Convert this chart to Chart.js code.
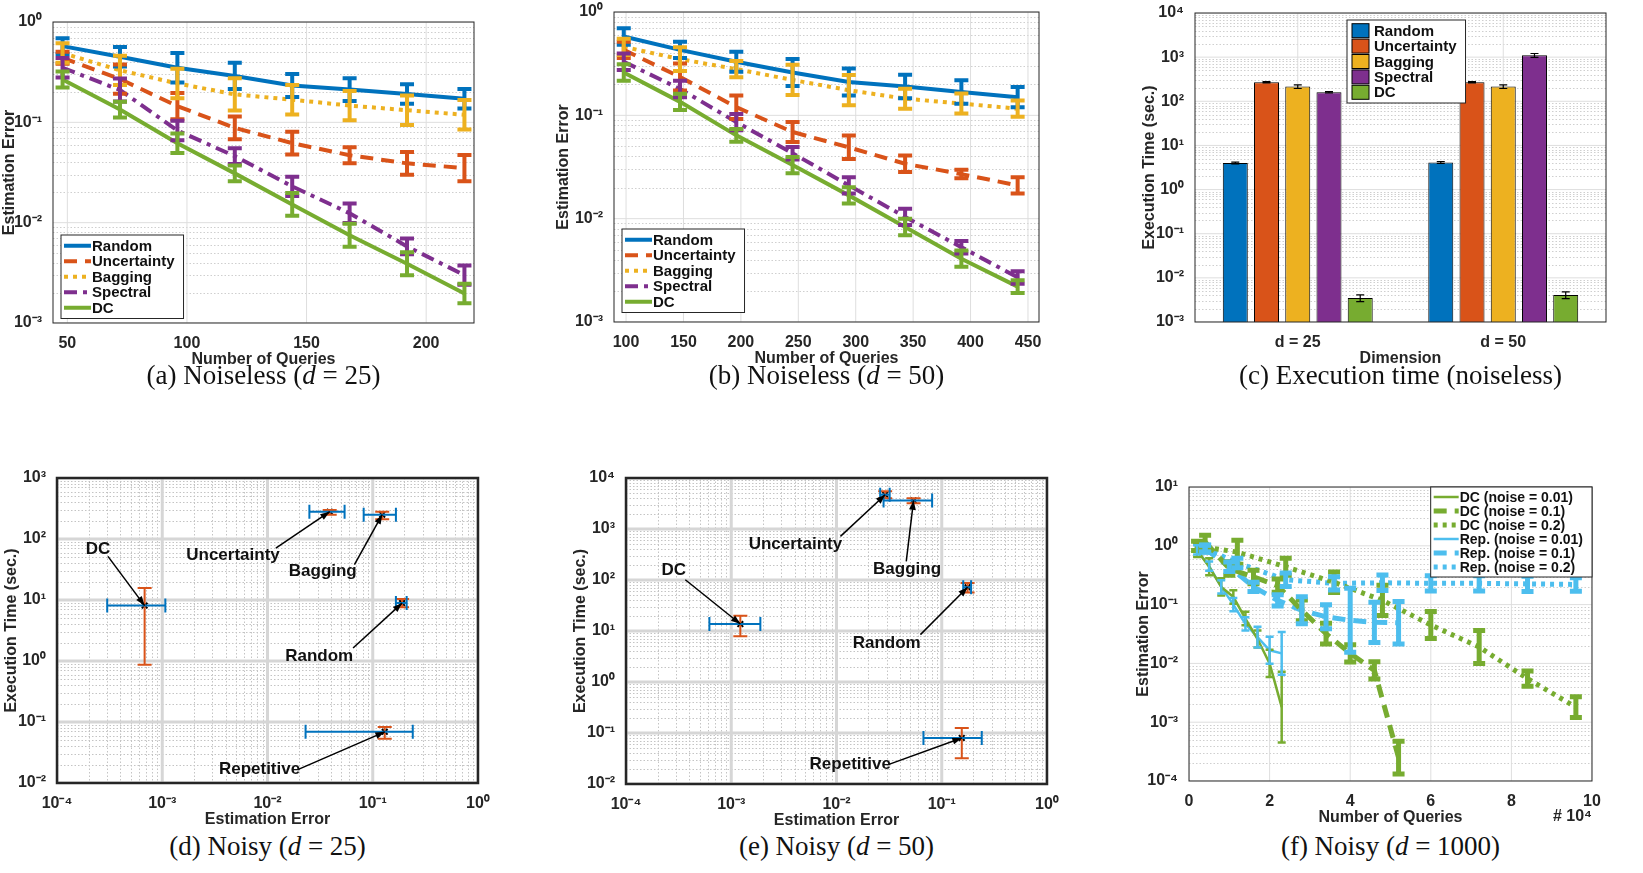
<!DOCTYPE html>
<html><head><meta charset="utf-8">
<script src="https://cdn.jsdelivr.net/npm/chart.js@4.4.1/dist/chart.umd.min.js"></script>
<style>
body{margin:0;background:#fff;width:1643px;height:873px;position:relative;overflow:hidden}
.p{position:absolute}
.cap{position:absolute;font-family:"Liberation Serif","Times New Roman",serif;font-size:27px;color:#111;transform:translateX(-50%);white-space:nowrap}
</style></head><body>
<script>
// ---- data ----
const methods = ["Random", "Uncertainty", "Bagging", "Spectral", "DC"];

const queriesA = [48, 72, 96, 120, 144, 168, 192, 216];
const randomA = [0.575, 0.45, 0.35, 0.29, 0.233, 0.212, 0.192, 0.172];
const uncertA = [0.44, 0.27, 0.145, 0.088, 0.062, 0.047, 0.039, 0.035];
const baggingA = [0.49, 0.33, 0.244, 0.19, 0.168, 0.147, 0.132, 0.119];
const spectralA = [0.35, 0.21, 0.083, 0.046, 0.023, 0.0124, 0.0058, 0.003];
const dcA = [0.267, 0.134, 0.062, 0.031, 0.0152, 0.0075, 0.0039, 0.00197];
const randomAErr = [1.2, 1.25, 1.4, 1.35, 1.3, 1.3, 1.25, 1.25];
const uncertAErr = [1.15, 1.4, 1.35, 1.3, 1.3, 1.2, 1.3, 1.35];
const baggingAErr = [1.25, 1.4, 1.4, 1.45, 1.4, 1.4, 1.4, 1.4];
const spectralAErr = [1.25, 1.3, 1.25, 1.2, 1.25, 1.25, 1.2, 1.25];
const dcAErr = [1.2, 1.2, 1.25, 1.2, 1.3, 1.3, 1.3, 1.25];

const queriesB = [98, 147, 196, 245, 294, 343, 392, 441];
const randomB = [0.58, 0.43, 0.33, 0.26, 0.21, 0.19, 0.168, 0.15];
const uncertB = [0.43, 0.235, 0.12, 0.069, 0.049, 0.034, 0.027, 0.021];
const baggingB = [0.46, 0.35, 0.28, 0.22, 0.175, 0.145, 0.13, 0.116];
const spectralB = [0.33, 0.18, 0.086, 0.043, 0.021, 0.0104, 0.0053, 0.0027];
const dcB = [0.26, 0.135, 0.064, 0.033, 0.0168, 0.0083, 0.0041, 0.0022];
const randomBErr = [1.2, 1.2, 1.25, 1.35, 1.35, 1.3, 1.3, 1.25];
const uncertBErr = [1.2, 1.35, 1.3, 1.25, 1.3, 1.2, 1.1, 1.2];
const baggingBErr = [1.2, 1.3, 1.2, 1.4, 1.4, 1.25, 1.25, 1.2];
const spectralBErr = [1.2, 1.2, 1.2, 1.15, 1.2, 1.2, 1.15, 1.15];
const dcBErr = [1.2, 1.2, 1.15, 1.2, 1.2, 1.2, 1.2, 1.15];

const dimensions = ["d = 25", "d = 50"];
const timeRandom = [4.0, 4.1];
const timeUncert = [270, 270];
const timeBagging = [215, 215];
const timeSpectral = [160, 1100];
const timeDC = [0.0035, 0.0041];
const timeErr = { Random: [0.2, 0.2], Uncertainty: [10, 10], Bagging: [20, 20], Spectral: [6, 110], DC: [0.0006, 0.0007] };

const noisyNames = ["DC", "Uncertainty", "Bagging", "Random", "Repetitive"];
const errD = [6.8e-4, 0.039, 0.123, 0.19, 0.13];
const errDLo = [3e-4, 0.025, 0.082, 0.166, 0.023];
const errDHi = [1.07e-3, 0.054, 0.166, 0.21, 0.24];
const timeD = [8.1, 280, 250, 8.9, 0.069];
const timeDLo = [0.87, 250, 210, 7.6, 0.053];
const timeDHi = [15.7, 300, 280, 10.4, 0.083];
// label position, arrow tail (data coords)
const notesD = [[2.45e-4, 68, 3.05e-4, 52], [4.7e-3, 55, 0.012, 71], [0.0335, 29.5, 0.067, 38], [0.031, 1.19, 0.065, 1.63], [8.4e-3, 0.0166, 0.0194, 0.0166]];

const errE = [1.22e-3, 0.029, 0.054, 0.176, 0.155];
const errELo = [6.2e-4, 0.026, 0.028, 0.16, 0.067];
const errEHi = [1.89e-3, 0.032, 0.081, 0.19, 0.24];
const timeE = [13.7, 4700, 3630, 71.8, 0.08];
const timeELo = [7.9, 4000, 3200, 57, 0.032];
const timeEHi = [20, 5500, 4000, 87, 0.125];
const notesE = [[2.85e-4, 158, 3.66e-4, 101], [4.07e-3, 508, 0.0109, 718], [0.0468, 164, 0.046, 232], [0.030, 5.65, 0.0627, 8.5], [0.0135, 0.024, 0.031, 0.024]];

const dc01X = [0.2, 0.5, 0.8, 1.1, 1.4, 1.7, 2.0, 2.3];
const dc01 = [0.84, 0.44, 0.2, 0.135, 0.058, 0.026, 0.01, 0.0018];
const dc01Err = [1.3, 1.4, 1.4, 1.3, 1.3, 1.4, 1.7, 4];
const rep01X = [0.2, 0.5, 0.8, 1.1, 1.4, 1.7, 2.0, 2.3];
const rep01 = [0.85, 0.45, 0.2, 0.1, 0.047, 0.028, 0.0167, 0.0148];
const rep01Err = [1.2, 1.2, 1.3, 1.3, 1.3, 1.5, 1.7, 2.3];
const dc1X = [0.4, 1.0, 1.6, 2.2, 2.8, 3.4, 4.0, 4.6, 5.2];
const dc1 = [1.16, 0.41, 0.295, 0.21, 0.08, 0.032, 0.0148, 0.0076, 0.00025];
const dc1Err = [1.3, 1.3, 1.3, 1.3, 1.5, 1.5, 1.4, 1.4, 1.9];
const rep1X = [0.4, 1.0, 1.6, 2.2, 2.8, 3.4, 4.0, 4.6, 5.2];
const rep1 = [0.89, 0.44, 0.2, 0.118, 0.08, 0.062, 0.054, 0.05, 0.049];
const rep1Err = [1.15, 1.2, 1.2, 1.25, 1.7, 1.6, 3.5, 2.2, 2.3];
const dc2X = [0.2, 1.2, 2.4, 3.6, 4.8, 6.0, 7.2, 8.4, 9.6];
const dc2 = [1.0, 0.78, 0.44, 0.24, 0.118, 0.045, 0.019, 0.0055, 0.0018];
const dc2Err = [1.2, 1.6, 1.4, 1.5, 1.8, 1.7, 1.9, 1.35, 1.5];
const rep2X = [0.4, 1.2, 2.4, 3.6, 4.8, 6.0, 7.2, 8.4, 9.6];
const rep2 = [0.9, 0.51, 0.265, 0.23, 0.235, 0.23, 0.23, 0.225, 0.22];
const rep2Err = [1.15, 1.2, 1.3, 1.3, 1.35, 1.35, 1.35, 1.35, 1.3];

// ---- style ----
const C = { blue: '#0072BD', orange: '#D95319', yellow: '#EDB120', purple: '#7E2F8E', green: '#77AC30', cyan: '#4DBEEE' };
const INK = '#262626';
Chart.defaults.font.family = '"Liberation Sans", Arial, sans-serif';
Chart.defaults.font.weight = 'bold';
Chart.defaults.color = INK;
Chart.defaults.animation = false;

const SUP = { '-': '⁻', '0': '⁰', '1': '¹', '2': '²', '3': '³', '4': '⁴' };
function pow10(v) {
  const e = Math.round(Math.log10(v));
  return '10' + String(e).split('').map(c => SUP[c]).join('');
}
function decades(min, max) {
  const out = [];
  for (let e = Math.round(Math.log10(min)); e <= Math.round(Math.log10(max)); e++) out.push(Math.pow(10, e));
  return out;
}
function minors(min, max) {
  const out = [];
  for (let e = Math.floor(Math.log10(min)); e < Math.ceil(Math.log10(max)); e++)
    for (let k = 2; k <= 9; k++) { const v = k * Math.pow(10, e); if (v > min && v < max) out.push(v); }
  return out;
}

function fitFn(size, horizontal) {
  return s => { if (horizontal) s.height = size; else s.width = size; s.paddingLeft = 0; s.paddingRight = 0; s.paddingTop = 0; s.paddingBottom = 0; };
}
function logAxis(min, max, title, size, horizontal, fs) {
  return {
    type: 'logarithmic', min, max,
    title: { display: !!title, text: title, font: { size: 16, weight: 'bold' }, padding: 0, color: INK },
    ticks: { font: { size: fs || 16, weight: 'bold' }, color: INK, padding: 3, autoSkip: false, maxRotation: 0, callback: v => pow10(v) },
    grid: { display: false }, border: { display: false },
    afterBuildTicks: s => { s.ticks = decades(min, max).map(v => ({ value: v })); },
    afterFit: fitFn(size, horizontal)
  };
}
function linAxis(min, max, ticks, title, size) {
  return {
    type: 'linear', min, max,
    title: { display: true, text: title, font: { size: 16, weight: 'bold' }, padding: 0, color: INK },
    ticks: { font: { size: 16, weight: 'bold' }, color: INK, padding: 3, autoSkip: false, maxRotation: 0 },
    grid: { display: false }, border: { display: false },
    afterBuildTicks: s => { s.ticks = ticks.map(v => ({ value: v })); },
    afterFit: fitFn(size, true)
  };
}

// grid, box, error bars, legend, notes
const matPlugin = {
  id: 'mat',
  beforeDatasetsDraw(chart) {
    const o = chart.options.plugins.mat || {};
    const a = chart.chartArea, ctx = chart.ctx, xs = chart.scales.x, ys = chart.scales.y;
    ctx.save();
    ctx.beginPath(); ctx.rect(a.left, a.top, a.right - a.left, a.bottom - a.top); ctx.clip();
    const line = (x1, y1, x2, y2) => { ctx.beginPath(); ctx.moveTo(x1, y1); ctx.lineTo(x2, y2); ctx.stroke(); };
    ctx.strokeStyle = o.minorColor || '#cfcfcf'; ctx.lineWidth = 1; ctx.setLineDash([1.5, 2]);
    if (o.yMinor) minors(ys.min, ys.max).forEach(v => { const y = Math.round(ys.getPixelForValue(v)) + 0.5; line(a.left, y, a.right, y); });
    if (o.xMinor) minors(xs.min, xs.max).forEach(v => { const x = Math.round(xs.getPixelForValue(v)) + 0.5; line(x, a.top, x, a.bottom); });
    ctx.setLineDash([]); ctx.strokeStyle = o.majorColor || '#dedede'; ctx.lineWidth = o.majorWidth || 1;
    ys.ticks.forEach(t => { const y = ys.getPixelForValue(t.value); line(a.left, y, a.right, y); });
    if (!o.noXMajor) xs.ticks.forEach(t => { const x = xs.getPixelForValue(t.value); line(x, a.top, x, a.bottom); });
    ctx.restore();
  },
  afterDatasetsDraw(chart) {
    const xs = chart.scales.x, ys = chart.scales.y, ctx = chart.ctx;
    // error bars
    chart.data.datasets.forEach((ds, di) => {
      const meta = chart.getDatasetMeta(di);
      ctx.save(); ctx.setLineDash([]); ctx.lineCap = 'butt';
      ctx.lineWidth = ds.errWidth || 2;
      const cap = ds.capW || 6;
      meta.data.forEach((el, i) => {
        if (ds.errLo) {
          const x = el.x, y1 = ys.getPixelForValue(ds.errLo[i]), y2 = ys.getPixelForValue(ds.errHi[i]);
          ctx.strokeStyle = ds.errColor || ds.borderColor;
          ctx.beginPath(); ctx.moveTo(x, y1); ctx.lineTo(x, y2);
          ctx.moveTo(x - cap, y1); ctx.lineTo(x + cap, y1); ctx.moveTo(x - cap, y2); ctx.lineTo(x + cap, y2); ctx.stroke();
        }
        if (ds.xLo) {
          const y = el.y, x1 = xs.getPixelForValue(ds.xLo[i]), x2 = xs.getPixelForValue(ds.xHi[i]);
          ctx.strokeStyle = ds.xErrColor;
          ctx.beginPath(); ctx.moveTo(x1, y); ctx.lineTo(x2, y);
          ctx.moveTo(x1, y - cap); ctx.lineTo(x1, y + cap); ctx.moveTo(x2, y - cap); ctx.lineTo(x2, y + cap); ctx.stroke();
        }
      });
      ctx.restore();
    });
  },
  afterDraw(chart) {
    const o = chart.options.plugins.mat || {};
    const a = chart.chartArea, ctx = chart.ctx, xs = chart.scales.x, ys = chart.scales.y;
    ctx.save();
    // notes with arrows
    (o.notes || []).forEach(n => {
      const tx = xs.getPixelForValue(n.tx), ty = ys.getPixelForValue(n.ty);
      const ax = xs.getPixelForValue(n.ax), ay = ys.getPixelForValue(n.ay);
      const px = xs.getPixelForValue(n.px), py = ys.getPixelForValue(n.py);
      ctx.strokeStyle = '#000'; ctx.fillStyle = '#000'; ctx.lineWidth = 1.5;
      ctx.beginPath(); ctx.moveTo(ax, ay); ctx.lineTo(px, py); ctx.stroke();
      const ang = Math.atan2(py - ay, px - ax), L = 10;
      ctx.beginPath(); ctx.moveTo(px, py);
      ctx.lineTo(px - L * Math.cos(ang - 0.35), py - L * Math.sin(ang - 0.35));
      ctx.lineTo(px - L * Math.cos(ang + 0.35), py - L * Math.sin(ang + 0.35)); ctx.closePath(); ctx.fill();
      ctx.font = 'bold 17px "Liberation Sans", Arial'; ctx.textAlign = 'center'; ctx.textBaseline = 'middle';
      ctx.fillStyle = '#111'; ctx.fillText(n.text, tx, ty);
    });
    // box
    ctx.strokeStyle = INK; ctx.lineWidth = o.boxWidth || 1; ctx.setLineDash([]);
    ctx.strokeRect(a.left, a.top, a.right - a.left, a.bottom - a.top);
    // legend
    if (o.legend) {
      const L = o.legend, fs = L.fs || 15, rh = L.rh || 16, sw = L.sw || 28;
      ctx.font = 'bold ' + fs + 'px "Liberation Sans", Arial';
      const items = chart.data.datasets.filter(d => d.label);
      const tw = Math.max(...items.map(d => ctx.measureText(d.label).width));
      const w = sw + tw + 10, h = items.length * rh + 6;
      const x0 = L.right !== undefined ? a.right - L.right - w : a.left + L.left;
      const y0 = a.top + L.top;
      ctx.fillStyle = '#fff'; ctx.fillRect(x0, y0, w, h);
      ctx.strokeStyle = INK; ctx.lineWidth = 1; ctx.strokeRect(x0, y0, w, h);
      items.forEach((d, i) => {
        const cy = y0 + 3 + rh * i + rh / 2;
        if (L.boxes) {
          ctx.fillStyle = d.backgroundColor; ctx.fillRect(x0 + 5, cy - 7, sw - 9, 14);
          ctx.strokeStyle = '#000'; ctx.lineWidth = 1; ctx.strokeRect(x0 + 5, cy - 7, sw - 9, 14);
        } else {
          ctx.strokeStyle = d.borderColor; ctx.lineWidth = d.borderWidth; ctx.setLineDash(d.borderDash || []);
          ctx.beginPath(); ctx.moveTo(x0 + 3, cy); ctx.lineTo(x0 + sw, cy); ctx.stroke(); ctx.setLineDash([]);
        }
        ctx.fillStyle = '#111'; ctx.textAlign = 'left'; ctx.textBaseline = 'middle';
        ctx.fillText(d.label, x0 + sw + 1, cy + 1);
      });
    }
    if (o.extra) {
      ctx.font = 'bold 16px "Liberation Sans", Arial'; ctx.fillStyle = INK; ctx.textAlign = 'right'; ctx.textBaseline = 'top';
      ctx.fillText(o.extra, a.right, a.bottom + 28);
    }
    ctx.restore();
  }
};
Chart.register(matPlugin);

// ---- layout ----
const HX = 46, PAD = 14;
function panel(g, caption, capY) {
  const d = document.createElement('div');
  d.className = 'p';
  d.style.left = (g.l - g.wy) + 'px'; d.style.top = (g.t - PAD) + 'px';
  d.style.width = (g.r - g.l + g.wy + PAD) + 'px'; d.style.height = (g.b - g.t + PAD + HX) + 'px';
  const cv = document.createElement('canvas'); d.appendChild(cv); document.body.appendChild(d);
  const c = document.createElement('div'); c.className = 'cap'; c.innerHTML = caption;
  c.style.left = ((g.l + g.r) / 2) + 'px'; c.style.top = capY + 'px'; document.body.appendChild(c);
  return cv;
}
function baseOpts(x, y, mat) {
  return {
    responsive: true, maintainAspectRatio: false,
    layout: { padding: { top: PAD, right: PAD, left: 0, bottom: 0 } },
    plugins: { legend: { display: false }, tooltip: { enabled: false }, mat },
    scales: { x, y }
  };
}
function series(xs, ys, f, label, color, dash, width, capW) {
  return {
    label, data: xs.map((x, i) => ({ x, y: ys[i] })),
    errLo: ys.map((v, i) => v / f[i]), errHi: ys.map((v, i) => v * f[i]),
    borderColor: color, backgroundColor: color, borderDash: dash, borderWidth: width,
    errWidth: width, capW: capW, pointRadius: 0, tension: 0, fill: false
  };
}
const DASH = [13, 8], DOT = [4, 5], DASHDOT = [13, 6, 4, 6];

// (a)
new Chart(panel({ l: 53, t: 22, r: 474, b: 323, wy: 53 }, '(a) Noiseless (<i>d</i> = 25)', 360), {
  type: 'line',
  data: { datasets: [
    series(queriesA, randomA, randomAErr, methods[0], C.blue, [], 4, 7),
    series(queriesA, uncertA, uncertAErr, methods[1], C.orange, DASH, 4, 7),
    series(queriesA, baggingA, baggingAErr, methods[2], C.yellow, DOT, 4, 7),
    series(queriesA, spectralA, spectralAErr, methods[3], C.purple, DASHDOT, 4, 7),
    series(queriesA, dcA, dcAErr, methods[4], C.green, [], 4, 7)
  ] },
  options: baseOpts(linAxis(44, 220, [50, 100, 150, 200], 'Number of Queries', HX),
    logAxis(1e-3, 1, 'Estimation Error', 53, false),
    { yMinor: true, legend: { left: 8, top: 213, fs: 15, rh: 15.5, sw: 30 } })
});

// (b)
new Chart(panel({ l: 614, t: 12, r: 1039, b: 322, wy: 60 }, '(b) Noiseless (<i>d</i> = 50)', 360), {
  type: 'line',
  data: { datasets: [
    series(queriesB, randomB, randomBErr, methods[0], C.blue, [], 4, 7),
    series(queriesB, uncertB, uncertBErr, methods[1], C.orange, DASH, 4, 7),
    series(queriesB, baggingB, baggingBErr, methods[2], C.yellow, DOT, 4, 7),
    series(queriesB, spectralB, spectralBErr, methods[3], C.purple, DASHDOT, 4, 7),
    series(queriesB, dcB, dcBErr, methods[4], C.green, [], 4, 7)
  ] },
  options: baseOpts(linAxis(89.5, 459.6, [100, 150, 200, 250, 300, 350, 400, 450], 'Number of Queries', HX),
    logAxis(1e-3, 1, 'Estimation Error', 60, false),
    { yMinor: true, legend: { left: 8, top: 217, fs: 15, rh: 15.5, sw: 30 } })
});

// (c)
const timeSeries = [timeRandom, timeUncert, timeBagging, timeSpectral, timeDC];
const barColors = [C.blue, C.orange, C.yellow, C.purple, C.green];
new Chart(panel({ l: 1195, t: 13, r: 1606, b: 322, wy: 55 }, '(c) Execution time (noiseless)', 360), {
  type: 'bar',
  data: { labels: dimensions, datasets: timeSeries.map((vals, k) => ({
    label: methods[k], data: vals, backgroundColor: barColors[k], borderColor: '#000', borderWidth: 1,
    categoryPercentage: 0.76, barPercentage: 0.8,
    errLo: vals.map((v, i) => v - timeErr[methods[k]][i]), errHi: vals.map((v, i) => v + timeErr[methods[k]][i]),
    errColor: '#000', errWidth: 1.2, capW: 4
  })) },
  options: baseOpts({
      type: 'category',
      title: { display: true, text: 'Dimension', font: { size: 16, weight: 'bold' }, padding: 0, color: INK },
      ticks: { font: { size: 16, weight: 'bold' }, color: INK, padding: 3 },
      grid: { display: false }, border: { display: false }, afterFit: fitFn(HX, true)
    },
    logAxis(1e-3, 1e4, 'Execution Time (sec.)', 55, false),
    { yMinor: true, legend: { left: 152, top: 7, fs: 15, rh: 15.4, sw: 26, boxes: true } })
});

// (d), (e)
function noisyChart(cv, errV, errLo, errHi, tV, tLo, tHi, notes, tMax) {
  return new Chart(cv, {
    type: 'scatter',
    data: { datasets: [{
      data: errV.map((x, i) => ({ x, y: tV[i] })),
      pointStyle: 'crossRot', pointRadius: 4, borderColor: '#000', borderWidth: 2,
      errLo: tLo, errHi: tHi, errColor: C.orange, errWidth: 2, capW: 7,
      xLo: errLo, xHi: errHi, xErrColor: C.blue
    }] },
    options: baseOpts(logAxis(1e-4, 1, 'Estimation Error', HX, true, 16),
      logAxis(1e-2, tMax, 'Execution Time (sec.)', 55, false, 16),
      { xMinor: true, yMinor: true, minorColor: '#c4c4c4', majorColor: '#d6d6d6', majorWidth: 3, boxWidth: 2.5,
        notes: notes.map((n, i) => ({ text: noisyNames[i], tx: n[0], ty: n[1], ax: n[2], ay: n[3], px: errV[i], py: tV[i] })) })
  });
}
noisyChart(panel({ l: 57, t: 478, r: 478, b: 783, wy: 55 }, '(d) Noisy (<i>d</i> = 25)', 831),
  errD, errDLo, errDHi, timeD, timeDLo, timeDHi, notesD, 1e3);
noisyChart(panel({ l: 626, t: 478, r: 1047, b: 784, wy: 55 }, '(e) Noisy (<i>d</i> = 50)', 831),
  errE, errELo, errEHi, timeE, timeELo, timeEHi, notesE, 1e4);

// (f)
new Chart(panel({ l: 1189, t: 487, r: 1592, b: 781, wy: 55 }, '(f) Noisy (<i>d</i> = 1000)', 831), {
  type: 'line',
  data: { datasets: [
    series(dc01X, dc01, dc01Err, 'DC (noise = 0.01)', C.green, [], 2.5, 4),
    series(dc1X, dc1, dc1Err, 'DC (noise = 0.1)', C.green, DASH, 5, 6),
    series(dc2X, dc2, dc2Err, 'DC (noise = 0.2)', C.green, DOT, 5, 6),
    series(rep01X, rep01, rep01Err, 'Rep. (noise = 0.01)', C.cyan, [], 2.5, 4),
    series(rep1X, rep1, rep1Err, 'Rep. (noise = 0.1)', C.cyan, DASH, 5, 6),
    series(rep2X, rep2, rep2Err, 'Rep. (noise = 0.2)', C.cyan, DOT, 5, 6)
  ] },
  options: baseOpts(linAxis(0, 10, [0, 2, 4, 6, 8, 10], 'Number of Queries', HX),
    logAxis(1e-4, 10, 'Estimation Error', 55, false),
    { yMinor: true, extra: '# 10⁴', legend: { right: 0, top: 0, fs: 14, rh: 14, sw: 28 } })
});
</script>
</body></html>
